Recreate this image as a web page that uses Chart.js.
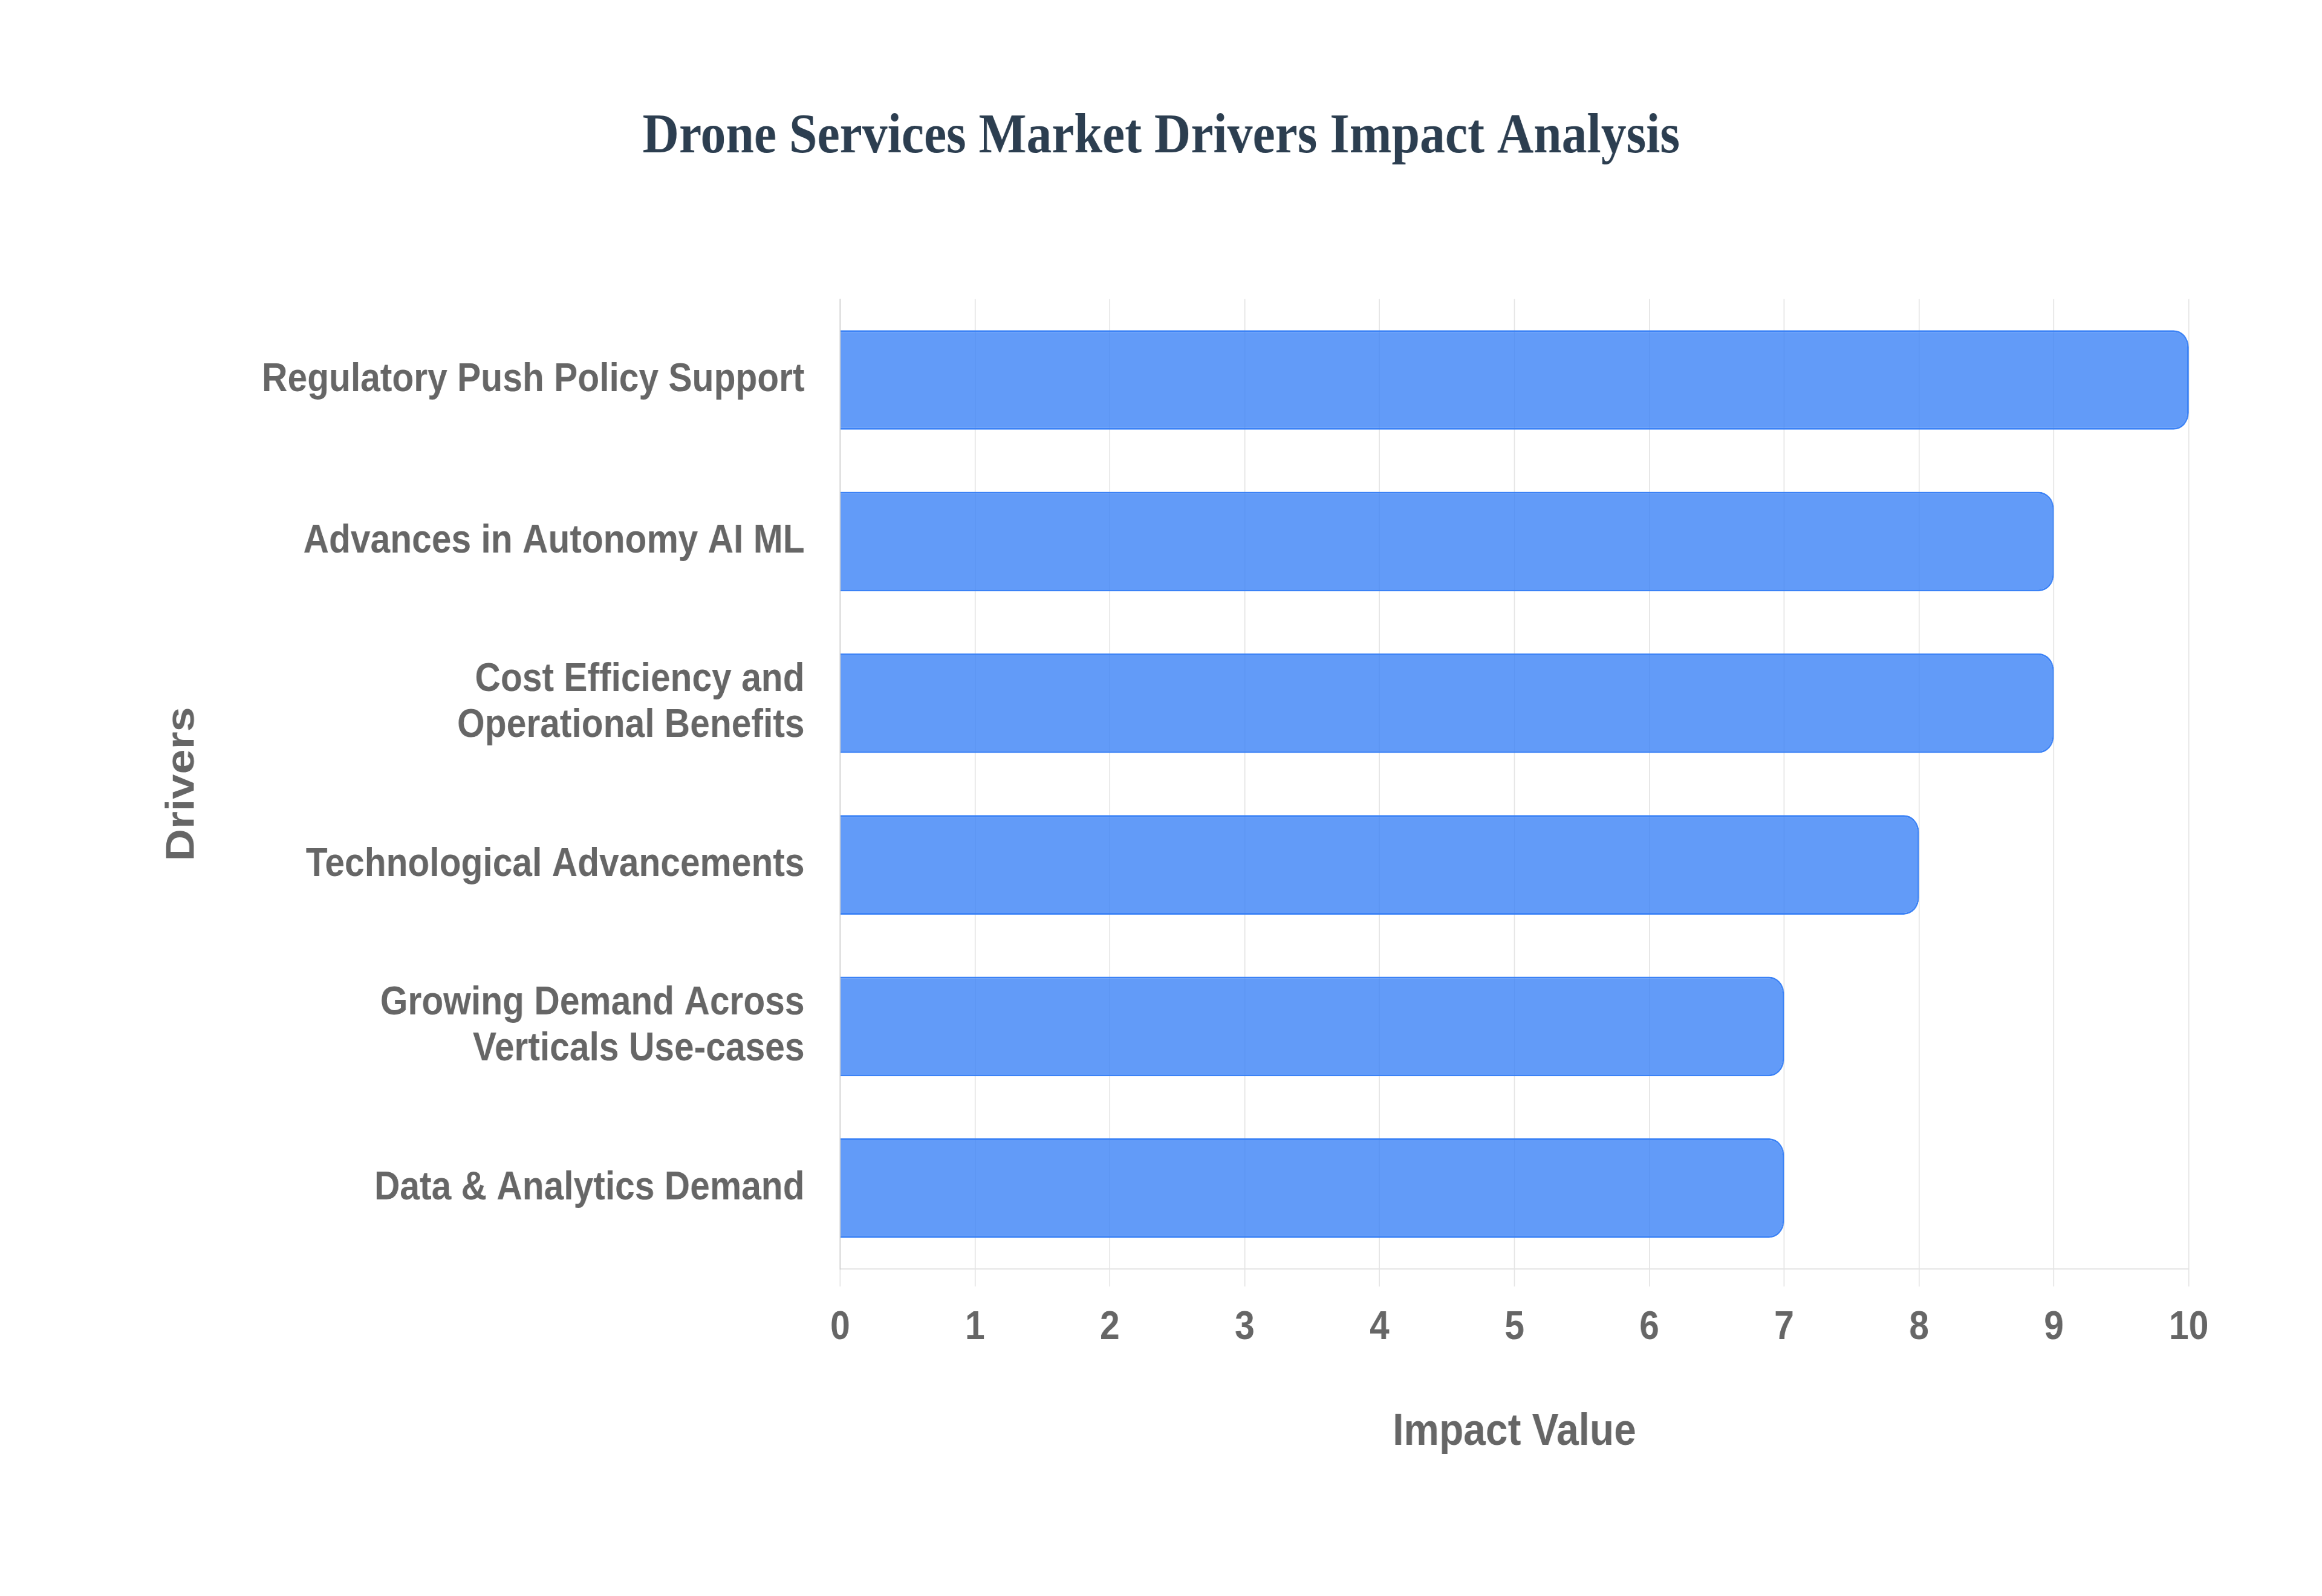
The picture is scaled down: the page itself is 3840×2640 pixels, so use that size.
<!DOCTYPE html>
<html>
<head>
<meta charset="utf-8">
<title>Drone Services Market Drivers Impact Analysis</title>
<script src="https://cdn.jsdelivr.net/npm/chart.js@4.4.0/dist/chart.umd.min.js"></script>
<style>
  html, body { margin: 0; padding: 0; background: #fff; overflow: hidden; }
  /* the reference is squeezed a little horizontally, so draw wider and scale down */
  #wrap { width: 4315px; height: 2640px; transform: scaleX(0.89); transform-origin: 0 0; }
</style>
</head>
<body>
<div id="wrap"><canvas id="chart" width="4315" height="2640"></canvas></div>
<script>
const drivers = [
  "Regulatory Push Policy Support",
  "Advances in Autonomy AI ML",
  ["Cost Efficiency and", "Operational Benefits"],
  "Technological Advancements",
  ["Growing Demand Across", "Verticals Use-cases"],
  "Data & Analytics Demand",
];
const impact = [10, 9, 9, 8, 7, 7];
const xTicks = [0, 1, 2, 3, 4, 5, 6, 7, 8, 9, 10];

const sans = "'Liberation Sans', Arial, sans-serif";
const serif = "'Liberation Serif', 'Times New Roman', serif";
const textGray = "#666666";

const data = {
  labels: drivers,
  datasets: [
    {
      label: "Impact Value",
      data: impact,
      backgroundColor: "rgba(59, 130, 246, 0.8)",
      borderColor: "rgb(59, 130, 246)",
      borderWidth: 3,
      borderRadius: 28,
      categoryPercentage: 0.8,
      barPercentage: 0.77,
    },
  ],
};

// same padding both sides so the title stays centred on the whole canvas
const sidePad = 248;

const config = {
  type: "bar",
  data: data,
  options: {
    indexAxis: "y",
    responsive: false,
    animation: false,
    devicePixelRatio: 1,
    layout: {
      padding: { top: 0, right: sidePad, bottom: 0, left: sidePad },
    },
    scales: {
      x: {
        min: xTicks[0],
        max: xTicks[xTicks.length - 1],
        afterBuildTicks: (scale) => {
          scale.ticks = xTicks.map((v) => ({ value: v }));
        },
        afterFit: (scale) => {
          scale.height = 541;
        },
        grid: {
          color: "rgba(0, 0, 0, 0.1)",
          lineWidth: 2,
          tickLength: 29,
        },
        border: { color: "rgba(0, 0, 0, 0.1)", width: 2 },
        ticks: {
          color: textGray,
          padding: 29,
          font: { family: sans, size: 66, weight: "bold" },
        },
        title: {
          display: true,
          text: "Impact Value",
          color: textGray,
          font: { family: sans, size: 74, weight: "bold" },
          padding: { top: 0, bottom: 226 },
        },
      },
      y: {
        afterFit: (scale) => {
          scale.width = 1561 - sidePad;
        },
        grid: { display: false, drawTicks: false },
        border: { display: true, color: "rgba(0, 0, 0, 0.1)", width: 2 },
        ticks: {
          color: textGray,
          padding: 66,
          font: { family: sans, size: 66, weight: "bold", lineHeight: 1.15 },
        },
        title: {
          display: true,
          text: "Drivers",
          color: textGray,
          font: { family: sans, size: 74, weight: "bold" },
          padding: { top: 295 - sidePad, bottom: 0 },
        },
      },
    },
    plugins: {
      legend: { display: false },
      tooltip: { enabled: false },
      title: {
        display: true,
        text: "Drone Services Market Drivers Impact Analysis",
        color: "#2c3e50",
        font: { family: serif, size: 94, weight: "bold" },
        padding: { top: 171, bottom: 211 },
      },
    },
  },
};

new Chart(document.getElementById("chart"), config);
</script>
</body>
</html>
